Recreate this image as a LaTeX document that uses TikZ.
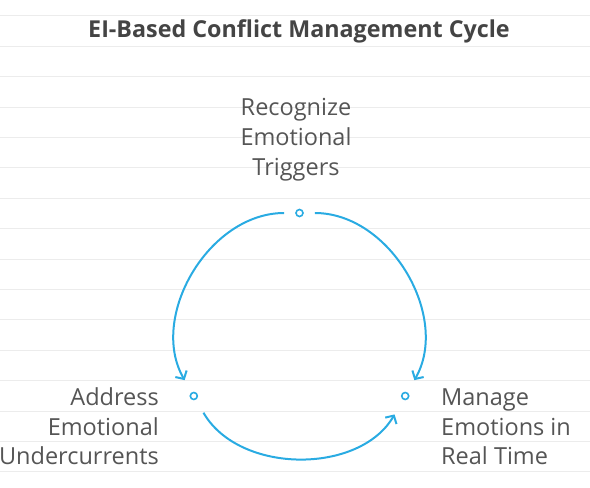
\documentclass[tikz,border=0pt]{standalone}
\usepackage{fontspec}
\setmainfont{Open Sans}
\usetikzlibrary{arrows.meta, positioning}
\definecolor{cycleblue}{RGB}{41, 171, 226}
\definecolor{labelgray}{RGB}{85, 85, 85}
\definecolor{titlegray}{RGB}{68, 68, 68}
\definecolor{rulegray}{RGB}{236, 236, 236}

\begin{document}
\begin{tikzpicture}[
    x=1pt, y=1pt,
    >={Straight Barb[length=6pt, width=13pt]},
    stepdot/.style={circle, draw=cycleblue, fill=white, line width=1.6pt, minimum size=7pt, inner sep=0pt},
    steplabel/.style={text=labelgray, font=\fontsize{23.5}{30}\selectfont, inner sep=0pt},
    cyclearc/.style={->, line width=2pt, cycleblue, looseness=1.07}
]
\useasboundingbox (0,0) rectangle (590,488);
\foreach \k in {0,...,15}
    \draw[rulegray, line width=1pt] (0,16+30.4*\k) -- (590,16+30.4*\k);

\node[font=\fontsize{23.3}{25}\selectfont\bfseries, text=titlegray, inner sep=0pt, anchor=base] (title) at (299,450) {EI-Based Conflict Management Cycle};

\node[stepdot] (recognize) at (299.5,275) {};
\node[stepdot] (address) at (193.8,92) {};
\node[stepdot] (manage) at (405.2,92) {};

% base anchor sits on the last line
\node[steplabel, align=center, anchor=base] (recognizetxt) at (296,312) {Recognize\\Emotional\\Triggers};
\node[steplabel, align=right, anchor=base east] (addresstxt) at (159,23) {Address\\Emotional\\Undercurrents};
\node[steplabel, align=left, anchor=base west] (managetxt) at (441,23) {Manage\\Emotions in\\Real Time};

\draw[cyclearc, shorten <=11pt, shorten >=14pt] (recognize) to[out=180, in=120] (address);
\draw[cyclearc, shorten <=11pt, shorten >=14pt] (recognize) to[out=0, in=60] (manage);
\draw[cyclearc, shorten <=15pt, shorten >=17pt] (address) to[out=300, in=240] (manage);
\end{tikzpicture}
\end{document}
